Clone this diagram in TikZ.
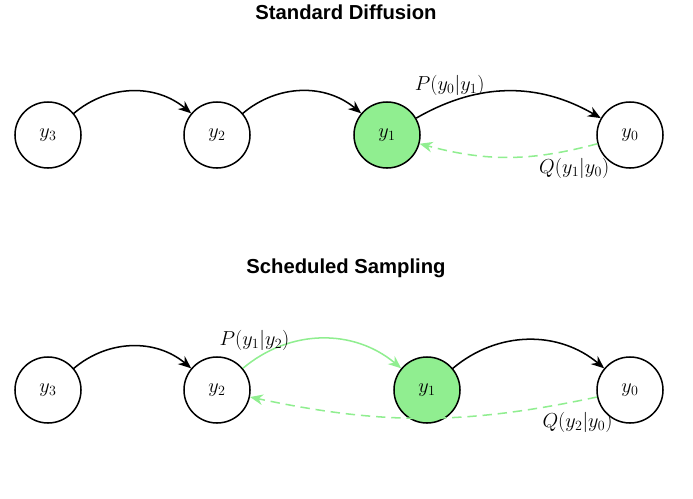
\documentclass[tikz,border=0pt]{standalone}
\usepackage{fontspec}
\newfontfamily\headfont{Liberation Sans}
\usetikzlibrary{arrows.meta}
\definecolor{lgreen}{RGB}{144,238,144}
\begin{document}
\begin{tikzpicture}[x=0.03cm,y=-0.03cm]
% STYLES
\tikzset{%
    state/.style={circle, draw, line width=1.3pt, minimum size=1.98cm, inner sep=0pt, font=\LARGE},
    active/.style={state, fill=lgreen},
    fwd/.style={-{Stealth[length=11pt,width=9pt]}, line width=1.3pt, bend left=40},
    back/.style={-{Stealth[length=11pt,width=9pt]}, line width=1.3pt, dash pattern=on 8pt off 5pt, lgreen, bend left=15},
    lbl/.style={font=\LARGE, text=black},
    title/.style={font=\headfont\bfseries\LARGE}
}
\useasboundingbox (0,0) rectangle (693,498);

% Standard diffusion
\node[title] (t1) at (346,12) {Standard Diffusion};
\node[state] (a3) at (48,135) {$y_3$};
\node[state] (a2) at (217,135) {$y_2$};
\node[active] (a1) at (387,135) {$y_1$};
\node[state] (a0) at (630,135) {$y_0$};
\draw[fwd] (a3) to (a2);
\draw[fwd] (a2) to (a1);
\draw[fwd, bend left=30] (a1) to node[lbl, above, pos=0.18, yshift=2pt] {$P(y_0|y_1)$} (a0);
\draw[back] (a0) to node[lbl, below, pos=0.12, yshift=-4pt] {$Q(y_1|y_0)$} (a1);

% Scheduled sampling
\node[title] (t2) at (346,268) {Scheduled Sampling};
\node[state] (b3) at (48,390) {$y_3$};
\node[state] (b2) at (217,390) {$y_2$};
\node[active] (b1) at (427,390) {$y_1$};
\node[state] (b0) at (630,390) {$y_0$};
\draw[fwd] (b3) to (b2);
\draw[fwd, lgreen] (b2) to node[lbl, above, pos=0.08, yshift=4pt] {$P(y_1|y_2)$} (b1);
\draw[fwd] (b1) to (b0);
\draw[back, bend left=12] (b0) to node[lbl, below, pos=0.05, yshift=-6pt] {$Q(y_2|y_0)$} (b2);
\end{tikzpicture}
\end{document}
